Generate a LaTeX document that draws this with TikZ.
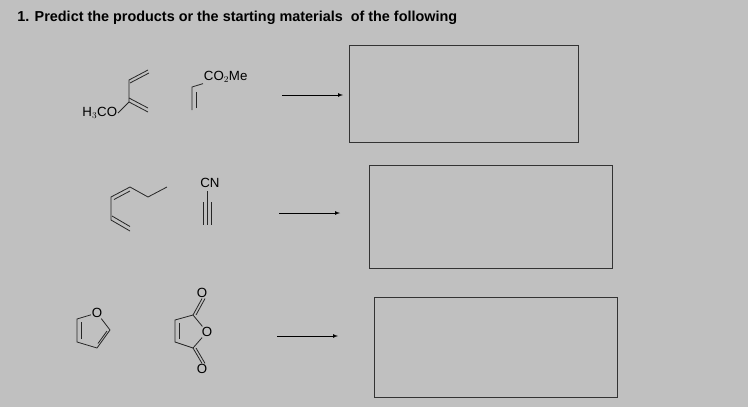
\documentclass[tikz,border=0pt]{standalone}
\usepackage{fontspec}
\setmainfont{Liberation Sans}
\usetikzlibrary{calc}
\begin{document}
\begin{tikzpicture}[x=1pt,y=-1pt,line width=0.8pt,
  bd/.style={draw=black!85},
  lbl/.style={inner sep=0.5pt,font=\fontsize{13.3}{13.3}\selectfont},
  box/.style={draw=black!80,line width=0.9pt},
  arr/.style={-latex,line width=0.7pt}]
\fill[fill={rgb,255:red,192;green,192;blue,192}] (0,0) rectangle (748,407);
\useasboundingbox (0,0) rectangle (748,407);
\node[anchor=west,inner sep=0pt,font=\bfseries\fontsize{14.4}{16}\selectfont] (title) at (17,18) {1. Predict the products or the starting materials\ \ of the following};
% molecule 1
\node[lbl,anchor=east] (meo) at (118,113) {H$_3$CO};
\coordinate (a1) at (129,102); \coordinate (a2) at (129,80); \coordinate (a3) at (148,70); \coordinate (a4) at (148,112);
\draw[bd] (meo.east) -- (a1) -- (a2) -- (a3);
\draw[bd] (130,83) -- (149,73);
\draw[bd] (a1) -- (a4); \draw[bd] (129,98) -- (148,108);
\node[lbl,anchor=west] (ester) at (203,77) {CO$_2$Me};
\coordinate (b1) at (192,110); \coordinate (b2) at (192,87);
\draw[bd] (b1) -- (b2) -- (ester.south west);
\draw[bd] (196,108) -- (196,92);
% molecule 2
\coordinate (c1) at (167,187); \coordinate (c2) at (148,197); \coordinate (c3) at (130,187);
\coordinate (c4) at (111,197); \coordinate (c5) at (111,220); \coordinate (c6) at (130,231);
\draw[bd] (c1) -- (c2) -- (c3) -- (c4) -- (c5) -- (c6);
\draw[bd] (130,191) -- (114,199.5);
\draw[bd] (112,216) -- (130,226.5);
\node[lbl] (cn) at (210,183) {CN};
\draw[bd] (207,191) -- (207,225);
\draw[bd] (203,202) -- (203,225); \draw[bd] (211,202) -- (211,225);
% furan
\node[lbl] (fo) at (97,313) {O};
\coordinate (f1) at (77,319); \coordinate (f2) at (77,342); \coordinate (f3) at (97,348); \coordinate (f4) at (110,330);
\draw[bd] (fo) -- (f1) -- (f2) -- (f3) -- (f4) -- (fo);
\draw[bd] (81,322) -- (81,339);
\draw[bd] (98,343.5) -- (107,331);
% maleic anhydride
\node[lbl] (mo) at (207,332) {O};
\node[lbl] (mo1) at (202,293) {O};
\node[lbl] (mo2) at (202,369) {O};
\coordinate (m1) at (193,315); \coordinate (m2) at (193,348); \coordinate (m3) at (175,320); \coordinate (m4) at (175,342);
\draw[bd] (mo) -- (m1) -- (m3) -- (m4) -- (m2) -- (mo);
\draw[bd] (179,323) -- (179,339);
\draw[bd] (m1) -- (mo1.south); \draw[bd] (196,315) -- ($(mo1.south)+(3,0)$);
\draw[bd] (m2) -- (mo2.north); \draw[bd] (196,348) -- ($(mo2.north)+(3,0)$);
% arrows and boxes
\coordinate (s1) at (282,95); \coordinate (e1) at (343,95);
\coordinate (s2) at (279,213); \coordinate (e2) at (340,213);
\coordinate (s3) at (277,336); \coordinate (e3) at (338,336);
\draw[arr] (s1) -- (e1); \draw[arr] (s2) -- (e2); \draw[arr] (s3) -- (e3);
\draw[box] (349,45) rectangle (578,142);
\draw[box] (369,165) rectangle (612,268);
\draw[box] (374,297) rectangle (617,397);
\end{tikzpicture}
\end{document}
